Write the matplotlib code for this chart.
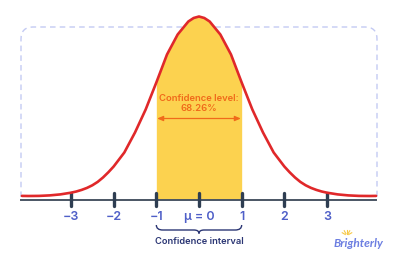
import matplotlib
matplotlib.use("Agg")
import matplotlib.pyplot as plt
from matplotlib.path import Path
from matplotlib.patches import PathPatch
import numpy as np

# ---- data ----
curve_x = [-4.15, -4.0, -3.75, -3.5, -3.25, -3.0, -2.875, -2.75, -2.625, -2.5, -2.375, -2.25,
           -2.125, -2.0, -1.75, -1.5, -1.25, -1.0, -0.75, -0.5, -0.25, -0.125, 0.0, 0.125,
           0.25, 0.5, 0.75, 1.0, 1.25, 1.5, 1.75, 2.0, 2.125, 2.25, 2.375, 2.5, 2.625, 2.75,
           2.875, 3.0, 3.25, 3.5, 3.75, 4.0, 4.15]
curve_y = [3.6, 3.5, 3.6, 4.1, 5.1, 6.8, 8.0, 9.6, 11.6, 14.2, 17.6, 22.0,
           27.2, 33.0, 47.0, 67.0, 90.0, 117.0, 145.0, 165.0, 178.0, 181.5, 183.0, 181.5,
           178.0, 165.0, 145.0, 117.0, 90.0, 67.0, 47.0, 33.0, 27.2, 22.0, 17.6, 14.2, 11.6, 9.6,
           8.0, 6.8, 5.1, 4.1, 3.6, 3.5, 3.6]
tick_values = [-3, -2, -1, 0, 1, 2, 3]
tick_labels = ["\u22123", "\u22122", "\u22121", "\u03bc = 0", "1", "2", "3"]
ci_low, ci_high = -1, 1
level_text = "Confidence level:\n68.26%"
interval_text = "Confidence interval"

# ---- styling ----
RED = "#E0282A"
YELLOW = "#FCD24F"
ORANGE = "#F06A1A"
BLUE = "#4F5FC8"
NAVY = "#2B3674"
AXIS = "#4A5563"
TICK = "#2F3E52"
BOX = "#C3CAF3"

W, H = 400, 267
fig = plt.figure(figsize=(4, 2.67), dpi=100)
fig.patch.set_facecolor("white")

# background overlay in pixel coordinates (frame + logo)
bg = fig.add_axes([0, 0, 1, 1], zorder=0)
bg.set_xlim(0, W)
bg.set_ylim(H, 0)
bg.axis("off")

L, R, T, B, r = 21, 377, 27, 197, 12
verts = [(L, B), (L, T + r), (L, T), (L + r, T), (R - r, T), (R, T), (R, T + r), (R, B)]
codes = [Path.MOVETO, Path.LINETO, Path.CURVE3, Path.CURVE3, Path.LINETO,
         Path.CURVE3, Path.CURVE3, Path.LINETO]
bg.add_patch(PathPatch(Path(verts, codes), fill=False, edgecolor=BOX, lw=1.0,
                       linestyle=(0, (4, 3))))

# main data axes
ax = fig.add_axes([0, 0, 1, 1], zorder=1)
ax.patch.set_alpha(0)
px_per_unit = 42.67
x0 = 199.0
ax.set_xlim(-x0 / px_per_unit, (W - x0) / px_per_unit)
ax_y = 199.5
ax.set_ylim(-(H - ax_y), ax_y)
ax.axis("off")

cx = np.array(curve_x)
cy = np.array(curve_y)
mask = (cx >= ci_low) & (cx <= ci_high)
ax.fill_between(cx[mask], 0, cy[mask], color=YELLOW, lw=0, zorder=1)

ax.plot([-4.17, 4.14], [0, 0], color=AXIS, lw=1.4, zorder=2)
for tv in tick_values:
    ax.plot([tv, tv], [6.3, -6.3], color=TICK, lw=2.4, solid_capstyle="round", zorder=3)

ax.plot(cx, cy, color=RED, lw=1.9, solid_joinstyle="round", solid_capstyle="round", zorder=4)

for tv, tl in zip(tick_values, tick_labels):
    ax.text(tv, -17.5, tl, ha="center", va="center", color=BLUE, fontsize=9,
            family="Inter", fontweight="semibold", zorder=5)

ax.text(0, 96, level_text, ha="center", va="center", color=ORANGE, fontsize=6.8,
        family="Inter", fontweight="semibold", linespacing=1.05, zorder=5)
ax.annotate("", xy=(ci_low + 0.02, 81), xytext=(ci_high - 0.02, 81),
            arrowprops=dict(arrowstyle="<|-|>,head_length=0.35,head_width=0.15",
                            color=ORANGE, lw=0.9, shrinkA=0, shrinkB=0), zorder=5)

# brace under the interval
yb0, yb1, yb2 = -25.5, -30.5, -34.0
bv = [(ci_low, yb0), (ci_low, yb1), (ci_low + 0.15, yb1), (-0.12, yb1), (0, yb1), (0, yb2),
      (0, yb1), (0.12, yb1), (ci_high - 0.15, yb1), (ci_high, yb1), (ci_high, yb0)]
bc = [Path.MOVETO, Path.CURVE3, Path.CURVE3, Path.LINETO, Path.CURVE3, Path.CURVE3,
      Path.CURVE3, Path.CURVE3, Path.LINETO, Path.CURVE3, Path.CURVE3]
ax.add_patch(PathPatch(Path(bv, bc), fill=False, edgecolor=NAVY, lw=1.0, zorder=5))
ax.text(0, -41.5, interval_text, ha="center", va="center", color=NAVY, fontsize=6.7,
        family="Inter", fontweight="semibold", zorder=5)

# logo
bg.text(358, 243.5, "Brighterly", ha="center", va="center", color="#6C7EE1", fontsize=8.6,
        family="Lato", fontweight="bold", style="italic")
for ang in [30, 60, 90, 120, 150]:
    a = np.deg2rad(ang)
    bg.plot([347 + 2.0 * np.cos(a), 347 + 5.5 * np.cos(a)],
            [235.5 - 2.0 * np.sin(a), 235.5 - 5.5 * np.sin(a)], color="#F7C948", lw=0.8)

fig.savefig("out.png", dpi=100, facecolor="white")
